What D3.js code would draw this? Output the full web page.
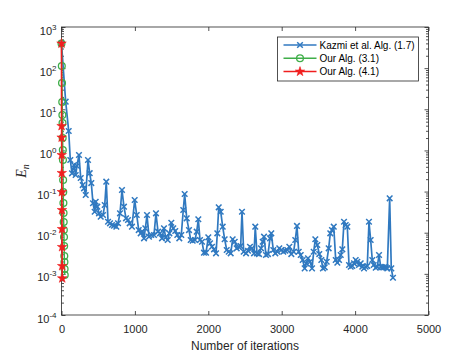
<!DOCTYPE html>
<html><head><meta charset="utf-8">
<script src="https://cdn.jsdelivr.net/npm/d3@7"></script>
<style>body{margin:0;background:#fff}svg{display:block}</style>
</head><body>
<svg id="chart" width="474" height="355"></svg>
<script>
// ---- data ----
const xTicks = [0, 1000, 2000, 3000, 4000, 5000];
const yExps = [-4, -3, -2, -1, 0, 1, 2, 3];
const seriesNames = ["Kazmi et al. Alg. (1.7)", "Our Alg. (3.1)", "Our Alg. (4.1)"];

const kazmiIter = [
  0,57,98,120,143,170,193,211,238,262,
  289,307,330,361,384,406,429,452,466,488,
  511,534,565,589,610,634,661,688,715,747,
  770,797,824,851,879,906,929,960,997,1025,
  1052,1079,1101,1124,1142,1165,1192,1223,1260,1287,
  1315,1342,1369,1396,1420,1447,1469,1496,1523,1550,
  1578,1605,1632,1659,1678,1706,1737,1760,1787,1819,
  1842,1864,1887,1914,1941,1969,2000,2023,2050,2078,
  2105,2123,2142,2169,2196,2223,2251,2278,2305,2332,
  2360,2387,2414,2441,2459,2482,2514,2541,2568,2595,
  2623,2640,2663,2691,2718,2741,2759,2786,2813,2841,
  2858,2886,2913,2940,2967,2995,3022,3049,3076,3104,
  3131,3163,3185,3208,3232,3259,3286,3313,3335,3358,
  3386,3413,3436,3458,3485,3512,3540,3562,3586,3613,
  3640,3662,3685,3709,3736,3758,3781,3804,3826,3849,
  3872,3894,3917,3940,3962,3985,4008,4030,4053,4076,
  4098,4121,4144,4166,4189,4212,4234,4253,4281,4302,
  4326,4349,4371,4394,4417,4439,4471,4493,4516
];
const kazmiErr = [
  397,15.3,2.97,0.585,0.278,0.442,0.253,0.418,0.774,0.214,
  0.144,0.12,0.0824,0.585,0.28,0.161,0.0519,0.0324,0.0567,0.0429,
  0.0296,0.0245,0.0269,0.0471,0.174,0.0185,0.0169,0.0154,0.0148,0.014,
  0.017,0.0296,0.109,0.0429,0.0224,0.0204,0.0169,0.014,0.0624,0.0269,
  0.0116,0.00966,0.0106,0.00731,0.0128,0.0269,0.008,0.0088,0.0088,0.0296,
  0.0106,0.00966,0.00731,0.0128,0.00773,0.00665,0.00966,0.0175,0.0128,0.011,
  0.0088,0.00731,0.0088,0.0356,0.0873,0.0224,0.0116,0.00665,0.0064,0.00665,
  0.0106,0.0212,0.00665,0.00604,0.00327,0.00327,0.00773,0.00552,0.00457,0.00395,
  0.00316,0.00966,0.0414,0.0324,0.014,0.00692,0.0038,0.00345,0.00316,0.00692,
  0.00604,0.00418,0.00457,0.0047,0.0324,0.00345,0.00316,0.00365,0.00457,0.00418,
  0.00316,0.014,0.00316,0.00303,0.00418,0.00604,0.008,0.00287,0.00303,0.00731,
  0.00966,0.0038,0.00316,0.00345,0.00418,0.0038,0.00345,0.00365,0.0038,0.00457,
  0.00303,0.00345,0.00665,0.0146,0.00345,0.00287,0.00217,0.00136,0.0018,0.00239,
  0.00197,0.00136,0.00345,0.00692,0.00502,0.00303,0.00217,0.00136,0.00144,0.00197,
  0.00418,0.00966,0.0116,0.014,0.00217,0.00187,0.00217,0.00287,0.00395,0.0185,
  0.0154,0.014,0.00164,0.00149,0.00155,0.0018,0.00217,0.00197,0.00164,0.0018,
  0.00149,0.00136,0.00149,0.00155,0.0185,0.00665,0.00217,0.00164,0.00141,0.00149,
  0.00287,0.00149,0.00144,0.00144,0.00144,0.00136,0.0686,0.00136,0.000805
];
const alg31Iter = [0,4,7,10,12,14,16,18,20,22,24,26,28,30,32,34,36,38,40,42,44];
const alg31Err = [397,113,43.5,15,7.26,4.64,2.0,1.02,0.585,0.191,0.0975,0.0527,0.0301,0.0182,0.0116,0.00787,0.00475,0.00272,0.00194,0.00131,0.00094];
const alg41Iter = [0,1,2,3,4,5,6,7,8,9,10];
const alg41Err = [397,3.93,2.06,0.774,0.283,0.0975,0.0356,0.0123,0.00449,0.00155,0.00078];

// ---- chart ----
const svg = d3.select("#chart");
const font = "'Liberation Sans', Arial, Helvetica, sans-serif";
const axisColor = "#262626";
const m = {left: 61.5, right: 428.5, top: 27, bottom: 315};
const x = d3.scaleLinear().domain([0, 5000]).range([m.left, m.right]);
const y = d3.scaleLog().domain([1e-4, 1e3]).range([m.bottom, m.top]);

const colors = ["#3079c0", "#3fae49", "#f01e1e"];

const majors = yExps.map(e => Math.pow(10, e));
const minors = y.ticks().filter(v => Math.abs(Math.log10(v) - Math.round(Math.log10(v))) > 1e-9);

function styleAxis(g) {
  g.select(".domain").remove();
  g.selectAll("line").attr("stroke", axisColor).attr("stroke-width", 0.8);
  g.selectAll("text").attr("fill", axisColor).attr("font-family", font).attr("font-size", 11);
}

// x axes
svg.append("g").attr("transform", `translate(0,${m.bottom})`)
  .call(d3.axisBottom(x).tickValues(xTicks).tickSize(-4).tickPadding(10).tickFormat(d3.format("d")))
  .call(styleAxis);
svg.append("g").attr("transform", `translate(0,${m.top})`)
  .call(d3.axisTop(x).tickValues(xTicks).tickSize(-4).tickFormat(""))
  .call(styleAxis);
// y axes
[[d3.axisLeft, m.left], [d3.axisRight, m.right]].forEach(([ax, pos]) => {
  svg.append("g").attr("transform", `translate(${pos},0)`)
    .call(ax(y).tickValues(majors).tickSize(-4).tickFormat(""))
    .call(styleAxis);
  svg.append("g").attr("transform", `translate(${pos},0)`)
    .call(ax(y).tickValues(minors).tickSize(-2.5).tickFormat(""))
    .call(styleAxis);
});

// box
svg.append("rect").attr("x", m.left).attr("y", m.top)
  .attr("width", m.right - m.left).attr("height", m.bottom - m.top)
  .attr("fill", "none").attr("stroke", axisColor).attr("stroke-width", 0.8);

// y tick labels
yExps.forEach(e => {
  const t = svg.append("text").attr("x", m.left - 5).attr("y", y(Math.pow(10, e)) + 7.5)
    .attr("text-anchor", "end").attr("font-family", font).attr("fill", axisColor).attr("font-size", 11);
  t.append("tspan").text("10");
  t.append("tspan").attr("dy", -5).attr("font-size", 8).text(e < 0 ? "-" + (-e) : String(e));
});

// axis labels
svg.append("text").attr("x", (m.left + m.right) / 2).attr("y", 349.5)
  .attr("text-anchor", "middle").attr("font-family", font).attr("font-size", 12)
  .attr("fill", axisColor).text("Number of iterations");
const yl = svg.append("text").attr("transform", "translate(26,171) rotate(-90)")
  .attr("text-anchor", "middle").attr("font-family", "'Liberation Serif', 'DejaVu Serif', serif")
  .attr("font-style", "italic").attr("font-size", 14).attr("fill", axisColor);
yl.append("tspan").text("E");
yl.append("tspan").attr("dy", 3).attr("font-size", 10).text("n");

// series
const plot = svg.append("g");
const line = d3.line().x(d => x(d[0])).y(d => y(d[1]));
const xPath = "M-2.8,-2.8L2.8,2.8M-2.8,2.8L2.8,-2.8";
const star = d3.symbol().type(d3.symbolStar).size(28)();

function drawSeries(iter, err, color, lw, marker) {
  const pts = iter.map((v, i) => [v, err[i]]);
  plot.append("path").datum(pts).attr("d", line).attr("fill", "none")
    .attr("stroke", color).attr("stroke-width", lw).attr("stroke-linejoin", "round");
  const g = plot.append("g");
  pts.forEach(p => drawMarker(g, x(p[0]), y(p[1]), color, marker));
}
function drawMarker(g, cx, cy, color, marker) {
  if (marker === "x") {
    g.append("path").attr("d", xPath).attr("transform", `translate(${cx},${cy})`)
      .attr("stroke", color).attr("stroke-width", 1.5).attr("fill", "none");
  } else if (marker === "o") {
    g.append("circle").attr("cx", cx).attr("cy", cy).attr("r", 3.4)
      .attr("fill", "none").attr("stroke", color).attr("stroke-width", 1.3);
  } else {
    g.append("path").attr("d", star).attr("transform", `translate(${cx},${cy})`)
      .attr("fill", color).attr("stroke", color).attr("stroke-width", 0.6);
  }
}
drawSeries(kazmiIter, kazmiErr, colors[0], 1.7, "x");
drawSeries(alg31Iter, alg31Err, colors[1], 1.4, "o");
drawSeries(alg41Iter, alg41Err, colors[2], 1.6, "star");

// legend
const lg = svg.append("g");
const L = {x0: 277.5, y0: 37, w: 141, h: 44};
lg.append("rect").attr("x", L.x0).attr("y", L.y0).attr("width", L.w).attr("height", L.h)
  .attr("fill", "#fff").attr("stroke", axisColor).attr("stroke-width", 0.8);
const markers = ["x", "o", "star"];
seriesNames.forEach((name, i) => {
  const cy = 45 + i * 13.3;
  lg.append("line").attr("x1", 283.5).attr("x2", 316.5).attr("y1", cy).attr("y2", cy)
    .attr("stroke", colors[i]).attr("stroke-width", 1.5);
  drawMarker(lg, 300, cy, colors[i], markers[i]);
  lg.append("text").attr("x", 319.5).attr("y", cy + 3.6).attr("font-family", font)
    .attr("font-size", 10).attr("fill", "#000").text(name);
});
</script>
</body></html>
